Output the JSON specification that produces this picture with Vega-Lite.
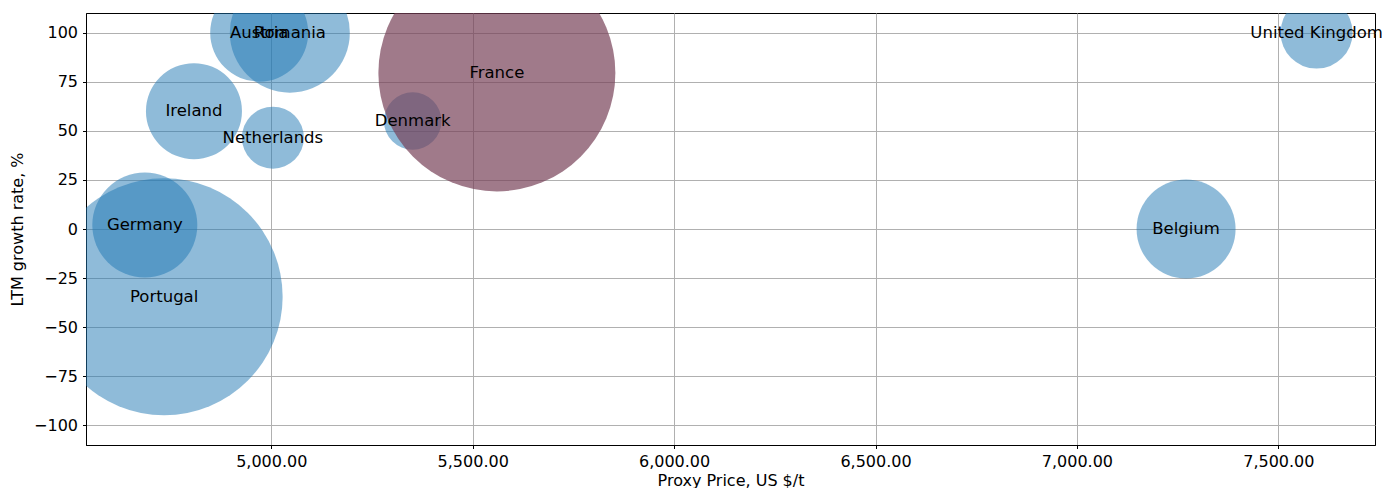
{
  "$schema": "https://vega.github.io/schema/vega-lite/v6.json",
  "width": 1289,
  "height": 432,
  "autosize": {"type": "none"},
  "padding": {"left": 86, "top": 13, "right": 7, "bottom": 43},
  "background": "white",
  "data": {
    "values": [
      {"country": "Austria", "price": 4970, "growth": 100, "volume": 96.0, "group": "other"},
      {"country": "Romania", "price": 5046, "growth": 100, "volume": 144.0, "group": "other"},
      {"country": "Ireland", "price": 4808, "growth": 60, "volume": 92.2, "group": "other"},
      {"country": "Netherlands", "price": 5004, "growth": 46.5, "volume": 38.4, "group": "other"},
      {"country": "Denmark", "price": 5351, "growth": 55, "volume": 33.0, "group": "other"},
      {"country": "Germany", "price": 4686, "growth": 2, "volume": 110.3, "group": "other"},
      {"country": "Portugal", "price": 4734, "growth": -34.5, "volume": 561.7, "group": "other"},
      {"country": "Belgium", "price": 7271, "growth": 0, "volume": 98.0, "group": "other"},
      {"country": "United Kingdom", "price": 7595, "growth": 100, "volume": 51.8, "group": "other"},
      {"country": "France", "price": 5560, "growth": 79.5, "volume": 561.7, "group": "focus"}
    ]
  },
  "encoding": {
    "x": {
      "field": "price",
      "type": "quantitative",
      "scale": {"domain": [4540, 7740], "nice": false, "zero": false},
      "axis": {"values": [5000, 5500, 6000, 6500, 7000, 7500], "format": ",.2f", "title": "Proxy Price, US $/t"}
    },
    "y": {
      "field": "growth",
      "type": "quantitative",
      "scale": {"domain": [-110, 110], "nice": false, "zero": false},
      "axis": {"values": [-100, -75, -50, -25, 0, 25, 50, 75, 100], "title": "LTM growth rate, %"}
    }
  },
  "layer": [
    {
      "mark": {"type": "circle", "clip": true, "strokeWidth": 0},
      "encoding": {
        "size": {"field": "volume", "type": "quantitative", "scale": {"type": "linear", "domain": [0, 600], "range": [0, 60000]}, "legend": null},
        "color": {"field": "group", "type": "nominal", "scale": {"domain": ["other", "focus"], "range": ["#1f77b4", "#774259"]}, "legend": null},
        "opacity": {"field": "group", "type": "nominal", "scale": {"domain": ["other", "focus"], "range": [0.5, 0.7]}, "legend": null}
      }
    },
    {
      "mark": {"type": "text", "font": "DejaVu Sans", "fontSize": 16.5, "baseline": "middle", "align": "center", "color": "black"},
      "encoding": {"text": {"field": "country", "type": "nominal"}}
    }
  ],
  "config": {
    "view": {"stroke": "black", "strokeWidth": 1},
    "axis": {
      "labelFont": "DejaVu Sans",
      "labelFontSize": 16,
      "labelColor": "black",
      "titleFont": "DejaVu Sans",
      "titleFontSize": 16,
      "titleFontWeight": "normal",
      "titleColor": "black",
      "domainColor": "black",
      "domainWidth": 1,
      "tickColor": "black",
      "tickWidth": 1,
      "tickSize": 3.5,
      "labelPadding": 5,
      "gridColor": "#b0b0b0",
      "gridWidth": 1,
      "gridOpacity": 1,
      "zindex": 1
    },
    "axisY": {"titlePadding": 8},
    "axisX": {"titlePadding": 3}
  }
}
